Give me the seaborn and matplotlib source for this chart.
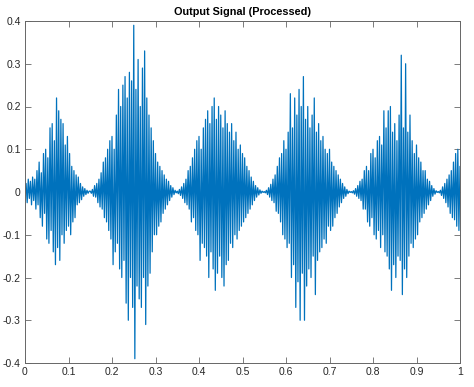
import numpy as np
import pandas as pd
import seaborn as sns
import matplotlib
matplotlib.use("Agg")
import matplotlib.pyplot as plt

# ---- data ----
burst1 = [0.0, 0.02, -0.025, 0.03, -0.015, 0.025, -0.03, 0.035, -0.02, 0.03,
          -0.04, 0.05, -0.03, 0.07, -0.06, 0.045, -0.08, 0.09, -0.05, 0.1,
          -0.11, 0.08, -0.12, 0.15, -0.09, 0.16, -0.14, 0.12, -0.17, 0.22,
          -0.13, 0.19, -0.16, 0.17, -0.1, 0.16, -0.12, 0.11, -0.09, 0.13,
          -0.08, 0.09, -0.1, 0.06, -0.07, 0.05, -0.06, 0.04, -0.03, 0.035,
          -0.025, 0.02, -0.018, 0.012, -0.01, 0.008, -0.006, 0.004, -0.003, 0.002]
burst2 = [0.002, -0.003, 0.006, -0.01, 0.015, -0.012, 0.02, -0.025, 0.03, -0.035,
          0.045, -0.04, 0.07, -0.06, 0.08, -0.07, 0.1, -0.09, 0.12, -0.11,
          0.13, -0.17, 0.1, -0.14, 0.18, -0.12, 0.24, -0.18, 0.2, -0.2,
          0.25, -0.16, 0.27, -0.26, 0.22, -0.3, 0.28, -0.2, 0.26, -0.27,
          0.39, -0.39, 0.24, -0.22, 0.31, -0.25, 0.2, -0.27, 0.29, -0.2,
          0.33, -0.31, 0.22, -0.22, 0.18, -0.19, 0.15, -0.14, 0.12, -0.1,
          0.09, -0.1, 0.07, -0.08, 0.06, -0.07, 0.05, -0.05, 0.04, -0.04,
          0.03, -0.03, 0.025, -0.02, 0.015, -0.012, 0.01, -0.006, 0.004, -0.002]
burst3 = [0.002, -0.004, 0.006, -0.008, 0.012, -0.015, 0.02, -0.025, 0.03, -0.03,
          0.05, -0.04, 0.06, -0.07, 0.08, -0.06, 0.1, -0.09, 0.12, -0.1,
          0.13, -0.16, 0.1, -0.12, 0.15, -0.13, 0.17, -0.15, 0.19, -0.2,
          0.16, -0.14, 0.2, -0.18, 0.22, -0.23, 0.17, -0.19, 0.2, -0.15,
          0.18, -0.2, 0.15, -0.22, 0.19, -0.17, 0.16, -0.16, 0.14, -0.12,
          0.16, -0.13, 0.12, -0.1, 0.14, -0.11, 0.1, -0.09, 0.11, -0.08,
          0.09, -0.07, 0.08, -0.06, 0.06, -0.05, 0.05, -0.04, 0.035, -0.03,
          0.025, -0.02, 0.015, -0.012, 0.01, -0.007, 0.005, -0.003, 0.002, -0.001]
burst4 = [0.001, -0.002, 0.004, -0.006, 0.01, -0.012, 0.018, -0.02, 0.03, -0.025,
          0.04, -0.045, 0.06, -0.05, 0.08, -0.07, 0.09, -0.1, 0.12, -0.11,
          0.1, -0.13, 0.14, -0.12, 0.23, -0.2, 0.15, -0.17, 0.22, -0.27,
          0.18, -0.21, 0.24, -0.3, 0.2, -0.19, 0.27, -0.3, 0.17, -0.22,
          0.2, -0.18, 0.15, -0.2, 0.18, -0.15, 0.22, -0.24, 0.14, -0.16,
          0.16, -0.14, 0.12, -0.13, 0.13, -0.11, 0.1, -0.12, 0.09, -0.08,
          0.1, -0.09, 0.07, -0.08, 0.06, -0.06, 0.05, -0.05, 0.04, -0.035,
          0.03, -0.025, 0.02, -0.015, 0.012, -0.01, 0.006, -0.004, 0.002, -0.001]
burst5 = [0.001, -0.002, 0.003, -0.005, 0.008, -0.01, 0.015, -0.015, 0.025, -0.02,
          0.03, -0.04, 0.05, -0.04, 0.06, -0.07, 0.05, -0.08, 0.09, -0.06,
          0.1, -0.1, 0.08, -0.11, 0.12, -0.09, 0.13, -0.13, 0.11, -0.1,
          0.19, -0.14, 0.15, -0.15, 0.19, -0.18, 0.2, -0.23, 0.14, -0.17,
          0.16, -0.2, 0.12, -0.15, 0.18, -0.16, 0.32, -0.24, 0.15, -0.18,
          0.3, -0.2, 0.14, -0.15, 0.18, -0.12, 0.12, -0.13, 0.09, -0.11,
          0.11, -0.1, 0.08, -0.07, 0.07, -0.06, 0.05, -0.05, 0.05, -0.04,
          0.03, -0.03, 0.025, -0.02, 0.015, -0.01, 0.008, -0.005, 0.003, -0.001]
burst6 = [0.001, -0.002, 0.004, -0.008, 0.012, -0.015, 0.02, -0.025, 0.03, -0.035,
          0.04, -0.05, 0.05, -0.06, 0.07, -0.065, 0.09, -0.08, 0.1, -0.09, 0.06]

signal = burst1 + burst2 + burst3 + burst4 + burst5 + burst6
x_ticks = [0, 0.1, 0.2, 0.3, 0.4, 0.5, 0.6, 0.7, 0.8, 0.9, 1]
x_labels = ["0", "0.1", "0.2", "0.3", "0.4", "0.5", "0.6", "0.7", "0.8", "0.9", "1"]
y_ticks = [-0.4, -0.3, -0.2, -0.1, 0, 0.1, 0.2, 0.3, 0.4]
y_labels = ["-0.4", "-0.3", "-0.2", "-0.1", "0", "0.1", "0.2", "0.3", "0.4"]
title = "Output Signal (Processed)"

df = pd.DataFrame({"t": np.linspace(0, 1, len(signal)), "y": signal})

sns.set_style("white")
plt.rcParams["font.family"] = ["Liberation Sans", "DejaVu Sans"]
plt.rcParams["axes.unicode_minus"] = False

fig = plt.figure(figsize=(4.74, 3.87), dpi=100)
ax = fig.add_axes([25 / 474, 1 - 363 / 387, 435 / 474, 342 / 387])

sns.lineplot(data=df, x="t", y="y", ax=ax, color="#0072BD",
             linewidth=0.9, estimator=None, sort=False)

ax.set_xlim(0, 1)
ax.set_ylim(-0.4, 0.4)
ax.set_xticks(x_ticks)
ax.set_xticklabels(x_labels)
ax.set_yticks(y_ticks)
ax.set_yticklabels(y_labels)
ax.set_xlabel("")
ax.set_ylabel("")
ax.set_title(title, fontsize=7.8, fontweight="bold", color="#000000", pad=4)

for s in ax.spines.values():
    s.set_visible(True)
    s.set_color("#666666")
    s.set_linewidth(0.7)
ax.tick_params(direction="in", length=4, width=0.6, color="#666666",
               top=True, right=True, bottom=True, left=True,
               labelsize=7.5, labelcolor="#262626", pad=3)

fig.savefig("out.png", dpi=100)
